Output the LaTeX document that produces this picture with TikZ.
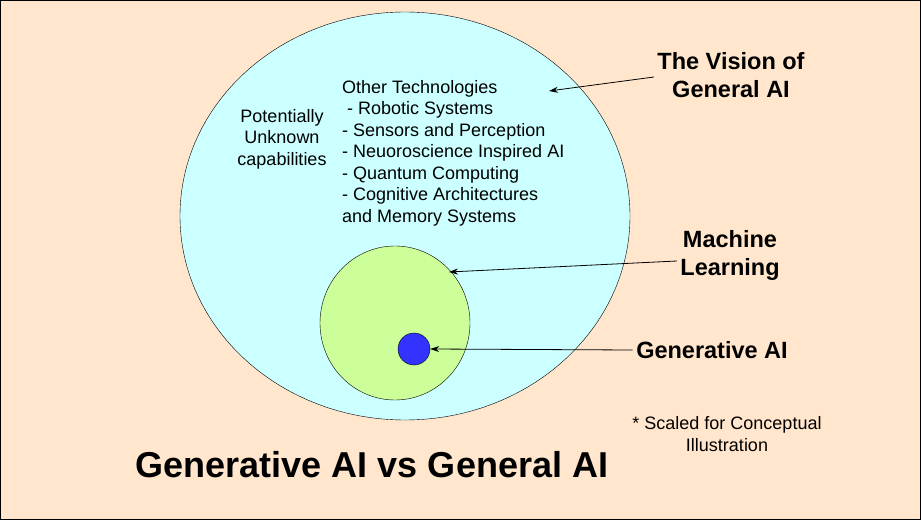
\documentclass[tikz,border=0pt]{standalone}
\usepackage{fontspec}
\setmainfont{Liberation Sans}
\usetikzlibrary{arrows.meta}
\definecolor{bg}{HTML}{FFE6CC}
\definecolor{cyanf}{HTML}{CCFFFF}
\definecolor{greenf}{HTML}{CCFF99}
\definecolor{bluef}{HTML}{3333FF}
\tikzset{lbl/.style={font=\fontsize{23.5}{28}\selectfont\bfseries,align=center},
 txt/.style={font=\fontsize{18}{21.5}\selectfont},
 arr/.style={-{Stealth[length=9pt,width=6pt]},line width=0.8pt}}
\begin{document}
\begin{tikzpicture}[x=1pt,y=-1pt]
\useasboundingbox (0,0) rectangle (921,521);
\draw[fill=bg,line width=1pt] (0.5,0.5) rectangle (920.5,519);
\draw[fill=cyanf] (405,216) ellipse [x radius=225,y radius=204];
\draw[fill=greenf] (395,323) ellipse [x radius=75,y radius=77];
\coordinate (mlpt) at (449,272);
\node[circle,draw,fill=bluef,minimum size=32pt,inner sep=0pt] (gen) at (414,349) {};
\coordinate (vispt) at (549,91);
\node[txt,align=center] (unk) at (282,139) {Potentially\\Unknown\\capabilities};
\node[txt,align=left,anchor=north west,inner sep=0pt] (other) at (342,80) {Other Technologies\\\ - Robotic Systems\\- Sensors and Perception\\- Neuoroscience Inspired AI\\- Quantum Computing\\- Cognitive Architectures\\and Memory Systems};
\node[lbl] (vis) at (731,75) {The Vision of\\General AI};
\node[lbl] (mll) at (730,255) {Machine\\Learning};
\node[lbl] (gal) at (712,350) {Generative AI};
\node[txt,align=center] (note) at (727,434) {* Scaled for Conceptual\\Illustration};
\node[font=\fontsize{36}{40}\selectfont\bfseries] (title) at (372,465) {Generative AI vs General AI};
\draw[arr] (vis.west |- 0,77) -- (vispt);
\draw[arr] (mll.west |- 0,261) -- (mlpt);
\draw[arr] (gal.west) -- (gen.east);
\end{tikzpicture}
\end{document}
